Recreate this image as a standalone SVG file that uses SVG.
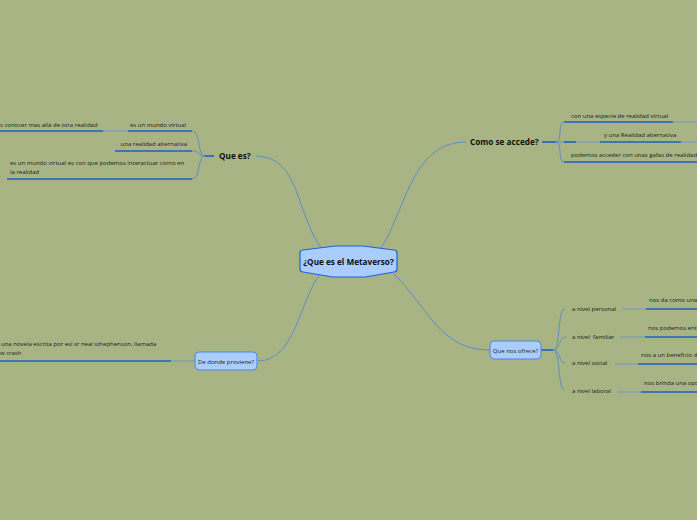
<svg xmlns="http://www.w3.org/2000/svg" width="697" height="520" viewBox="0 0 697 520">
<style>
.bg{fill:#a9b484}
.con{fill:none;stroke:#5f8fc4;stroke-width:1}
.ul{fill:none;stroke:#1f5fc2;stroke-width:1.6}
.lt{fill:none;stroke:#7a9cc0;stroke-width:1.2}
.t{font-family:"Open Sans","Noto Sans",sans-serif;font-size:6px;fill:#1a1a1a}
.b{font-family:"Open Sans","Noto Sans",sans-serif;font-size:8.2px;font-weight:bold;fill:#111}
.box{fill:#abcdfc;stroke:#4a88dc;stroke-width:1}
.hex{fill:#aaccff;stroke:#1a63d6;stroke-width:1.2}
</style>
<rect class="bg" x="0" y="0" width="697" height="520"/>
<g id="connectors">
<path class="con" d="M256,156 C300,156 296,215 322,249"/>
<path class="con" d="M380,249 C405,215 410,142 466,142"/>
<path class="con" d="M320,274 C300,300 295,361 258,361"/>
<path class="con" d="M394,274 C430,310 440,350 490,350"/>
<path class="ul" d="M205,156 H214"/>
<path class="con" d="M205,156 C197,156 201,131 192,131"/>
<path class="con" d="M205,156 C198,156 200,151 192,151"/>
<path class="con" d="M205,156 C197,156 201,179 192,179"/>
<path class="lt" d="M103,131 H128"/>
<path class="ul" d="M542,142 H556"/>
<path class="con" d="M556,142 C562,142 558,122 564,122"/>
<path class="con" d="M556,142 H564"/>
<path class="con" d="M556,142 C562,142 558,162 564,162"/>
<path class="lt" d="M576,142 H600"/>
<path class="lt" d="M673,122 H697"/>
<path class="lt" d="M681,142 H697"/>
<path class="ul" d="M541,350 H553"/>
<path class="con" d="M553,350 C561,350 557,309 565,309"/>
<path class="con" d="M553,350 C561,350 558,337 566,337"/>
<path class="con" d="M553,350 C561,350 558,363 565,363"/>
<path class="con" d="M553,350 C561,350 557,390 565,390"/>
<path class="lt" d="M622,309 H646"/>
<path class="lt" d="M620,337 H645"/>
<path class="lt" d="M615,364 H638"/>
<path class="lt" d="M617,392 H641"/>
<path class="lt" d="M171,361 H195"/>
</g>
<g id="center">
<path class="hex" d="M303,250 L335,246 L363,246 L394,250 Q397,250 397,253 L397,269 Q397,272 394,272 L365,277 L333,277 L303,272 Q300,272 300,269 L300,253 Q300,250 303,250 Z"/>
<text class="b" x="348.5" y="264.5" text-anchor="middle">¿Que es el Metaverso?</text>
</g>
<g id="que-es">
<text class="b" x="219" y="159">Que es?</text>
</g>
<g id="mundo-virtual">
<path class="ul" d="M128,131 H192"/>
<text class="t" x="130" y="127">es un mundo virtual</text>
</g>
<g id="conocer">
<path class="ul" d="M0,131 H103"/>
<text class="t" x="0" y="127">s conocer mas allá de otra realidad</text>
</g>
<g id="realidad-alternativa">
<path class="ul" d="M115,151 H192"/>
<text class="t" x="187" y="146" text-anchor="end">una realidad alternativa</text>
</g>
<g id="interactuar">
<path class="ul" d="M7,179 H192"/>
<text class="t" x="10" y="165">es un mundo virtual es con que podemos interactuar como en</text>
<text class="t" x="10" y="174">la realidad</text>
</g>
<g id="como-se-accede">
<text class="b" x="470" y="145">Como se accede?</text>
</g>
<g id="especie">
<path class="ul" d="M564,122 H673"/>
<text class="t" x="571" y="118">con una especie de realidad virtual</text>
</g>
<g id="empty">
<path class="ul" d="M564,142 H576"/>
</g>
<g id="realidad-alt2">
<path class="ul" d="M600,142 H681"/>
<text class="t" x="604" y="137">y una Realidad alternativa</text>
</g>
<g id="gafas">
<path class="ul" d="M564,162 H697"/>
<text class="t" x="571" y="157">podemos acceder con unas gafas de realidad</text>
</g>
<g id="que-nos-ofrece">
<rect class="box" x="490" y="341" width="51" height="18" rx="4"/>
<text class="t" x="515.5" y="352.5" text-anchor="middle">Que nos ofrece?</text>
</g>
<g id="personal">
<text class="t" x="572" y="311">a nivel personal</text>
</g>
<g id="familiar">
<text class="t" x="572" y="339" xml:space="preserve">a nivel  familiar</text>
</g>
<g id="social">
<text class="t" x="572" y="365">a nivel social</text>
</g>
<g id="laboral">
<text class="t" x="572" y="393">a nivel laboral</text>
</g>
<g id="da-como">
<path class="ul" d="M646,309 H697"/>
<text class="t" x="649" y="302">nos da como una</text>
</g>
<g id="podemos">
<path class="ul" d="M645,337 H697"/>
<text class="t" x="648" y="330">nos podemos ent</text>
</g>
<g id="beneficio">
<path class="ul" d="M638,364 H697"/>
<text class="t" x="641" y="357">nos a un beneficio d</text>
</g>
<g id="brinda">
<path class="ul" d="M641,392 H697"/>
<text class="t" x="644" y="385">nos brinda una opo</text>
</g>
<g id="de-donde">
<rect class="box" x="195" y="352" width="62" height="18" rx="4"/>
<text class="t" x="226" y="363.5" text-anchor="middle">De donde proviene?</text>
</g>
<g id="novela">
<path class="ul" d="M0,361 H171"/>
<text class="t" x="1" y="346">una novela escrita por esl sr neal sthephenson, llamada</text>
<text class="t" x="0" y="355">w crash</text>
</g>
</svg>
